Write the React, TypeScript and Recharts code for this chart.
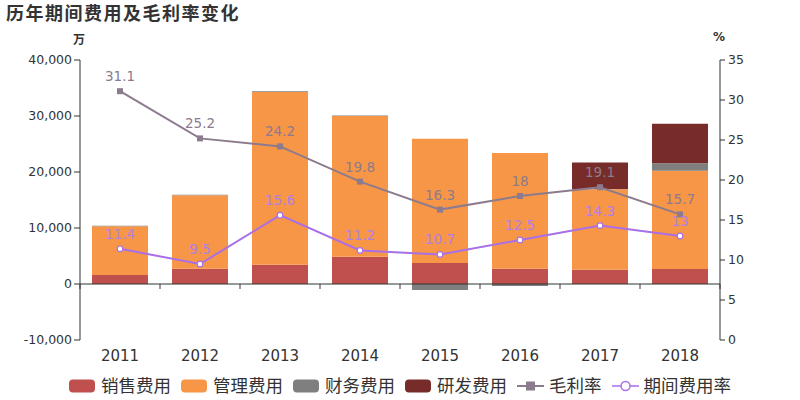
import React from 'react';
import {
  ComposedChart,
  Bar,
  Line,
  XAxis,
  YAxis,
  Legend,
  LabelList,
  ReferenceLine,
} from 'recharts';

// 年份
const years = ['2011', '2012', '2013', '2014', '2015', '2016', '2017', '2018'];

// 费用（万元）
const salesExpense = [1600, 2730, 3450, 4880, 3750, 2730, 2560, 2680];
const adminExpense = [8700, 13100, 30850, 25100, 22200, 20670, 14340, 17550];
const financeExpense = [100, 120, 100, 100, -1050, -350, 60, 1320];
const rdExpense = [0, 0, 0, 0, 0, 0, 4740, 7080];

// 比率（%）
const grossMargin = [31.1, 25.2, 24.2, 19.8, 16.3, 18, 19.1, 15.7];
const periodExpenseRate = [11.4, 9.5, 15.6, 11.2, 10.7, 12.5, 14.3, 13];

// 坐标轴刻度
const leftTicks = [-10000, 0, 10000, 20000, 30000, 40000];
const rightTicks = [0, 5, 10, 15, 20, 25, 30, 35];

const FONT = "'DejaVu Sans', 'Noto Sans CJK SC', sans-serif";
const AXIS_COLOR = '#333';

const COLORS = {
  sales: '#c0504d',
  admin: '#f79646',
  finance: '#7f7f7f',
  rd: '#772c2a',
  gross: '#8c7b8e',
  period: '#a96fe9',
};

const data = years.map((year, i) => ({
  year,
  sales: salesExpense[i],
  admin: adminExpense[i],
  finance: financeExpense[i],
  rd: rdExpense[i],
  gross: grossMargin[i],
  period: periodExpenseRate[i],
}));

const legendItems = [
  { name: '销售费用', color: COLORS.sales, kind: 'bar' },
  { name: '管理费用', color: COLORS.admin, kind: 'bar' },
  { name: '财务费用', color: COLORS.finance, kind: 'bar' },
  { name: '研发费用', color: COLORS.rd, kind: 'bar' },
  { name: '毛利率', color: COLORS.gross, kind: 'square' },
  { name: '期间费用率', color: COLORS.period, kind: 'circle' },
];

// 零值处的横轴线，类目分界处带刻度
const ZeroAxis = (props: any) => {
  const { x1, y1, x2 } = props;
  if (x1 == null || y1 == null || x2 == null) return null;
  const n = years.length;
  const step = (x2 - x1) / n;
  const ticks = [];
  for (let i = 0; i <= n; i++) {
    const x = x1 + step * i;
    ticks.push(<line key={i} x1={x} y1={y1} x2={x} y2={y1 + 5} stroke={AXIS_COLOR} strokeWidth={1} />);
  }
  return (
    <g>
      <line x1={x1} y1={y1} x2={x2} y2={y1} stroke={AXIS_COLOR} strokeWidth={1} />
      {ticks}
    </g>
  );
};

const SquareDot = (props: any) => {
  const { cx, cy } = props;
  if (cx == null || cy == null) return null;
  return <rect x={cx - 3} y={cy - 3} width={6} height={6} fill={COLORS.gross} />;
};

const CircleDot = (props: any) => {
  const { cx, cy } = props;
  if (cx == null || cy == null) return null;
  return <circle cx={cx} cy={cy} r={2.8} fill="#fff" stroke={COLORS.period} strokeWidth={1.2} />;
};

const LegendContent = () => (
  <div
    style={{
      display: 'flex',
      justifyContent: 'center',
      alignItems: 'center',
      gap: 10,
      fontFamily: FONT,
      fontSize: 17.5,
      color: '#333',
      lineHeight: '22px',
    }}
  >
    {legendItems.map((item) => (
      <div key={item.name} style={{ display: 'flex', alignItems: 'center' }}>
        <svg width={27} height={14} style={{ marginRight: 5 }}>
          {item.kind === 'bar' && <rect x={0} y={0.5} width={26} height={13} rx={4} fill={item.color} />}
          {item.kind === 'square' && (
            <g>
              <line x1={0} y1={7} x2={27} y2={7} stroke={item.color} strokeWidth={2} />
              <rect x={9} y={2.5} width={9} height={9} fill={item.color} />
            </g>
          )}
          {item.kind === 'circle' && (
            <g>
              <line x1={0} y1={7} x2={27} y2={7} stroke={item.color} strokeWidth={1.5} />
              <circle cx={13.5} cy={7} r={4.5} fill="#fff" stroke={item.color} strokeWidth={1.5} />
            </g>
          )}
        </svg>
        <span>{item.name}</span>
      </div>
    ))}
  </div>
);

export default function App() {
  return (
    <div style={{ position: 'absolute', left: 0, top: 0, width: 800, height: 400, background: '#fff' }}>
      <div
        style={{
          position: 'absolute',
          left: 6,
          top: 2,
          fontFamily: FONT,
          fontSize: 18,
          fontWeight: 'bold',
          letterSpacing: 1.5,
          color: '#333',
          lineHeight: '24px',
        }}
      >
        历年期间费用及毛利率变化
      </div>
      <div
        style={{
          position: 'absolute',
          left: 73,
          top: 30,
          fontFamily: FONT,
          fontSize: 12,
          fontWeight: 'bold',
          color: '#333',
        }}
      >
        万
      </div>
      <div
        style={{
          position: 'absolute',
          left: 713,
          top: 30,
          fontFamily: FONT,
          fontSize: 12,
          fontWeight: 'bold',
          color: '#333',
        }}
      >
        %
      </div>
      <ComposedChart
        width={800}
        height={400}
        data={data}
        stackOffset="sign"
        margin={{ top: 60, right: 0, bottom: 0, left: 0 }}
        style={{ fontFamily: FONT }}
      >
        <XAxis
          dataKey="year"
          height={60}
          axisLine={false}
          tickLine={false}
          tickMargin={4}
          tick={{ fontSize: 15, fill: AXIS_COLOR, fontFamily: FONT }}
        />
        <YAxis
          yAxisId="left"
          orientation="left"
          width={80}
          domain={[-10000, 40000]}
          ticks={leftTicks}
          interval={0}
          tickSize={6}
          tickMargin={2}
          stroke={AXIS_COLOR}
          tick={{ fontSize: 12.5, fill: AXIS_COLOR, fontFamily: FONT }}
          tickFormatter={(v: number) => v.toLocaleString('en-US')}
        />
        <YAxis
          yAxisId="right"
          orientation="right"
          width={80}
          domain={[0, 35]}
          ticks={rightTicks}
          interval={0}
          tickSize={5}
          tickMargin={3}
          stroke={AXIS_COLOR}
          tick={{ fontSize: 12.5, fill: AXIS_COLOR, fontFamily: FONT }}
        />
        <ReferenceLine yAxisId="left" y={0} shape={ZeroAxis} />
        <Bar yAxisId="left" dataKey="sales" name="销售费用" stackId="exp" fill={COLORS.sales} barSize={56} isAnimationActive={false} />
        <Bar yAxisId="left" dataKey="admin" name="管理费用" stackId="exp" fill={COLORS.admin} barSize={56} isAnimationActive={false} />
        <Bar yAxisId="left" dataKey="finance" name="财务费用" stackId="exp" fill={COLORS.finance} barSize={56} isAnimationActive={false} />
        <Bar yAxisId="left" dataKey="rd" name="研发费用" stackId="exp" fill={COLORS.rd} barSize={56} isAnimationActive={false} />
        <Line
          yAxisId="right"
          type="linear"
          dataKey="gross"
          name="毛利率"
          stroke={COLORS.gross}
          strokeWidth={2}
          dot={<SquareDot />}
          activeDot={false}
          isAnimationActive={false}
        >
          <LabelList dataKey="gross" position="top" offset={10} fill={COLORS.gross} fontSize={13.5} fontFamily={FONT} />
        </Line>
        <Line
          yAxisId="right"
          type="linear"
          dataKey="period"
          name="期间费用率"
          stroke={COLORS.period}
          strokeWidth={2}
          dot={<CircleDot />}
          activeDot={false}
          isAnimationActive={false}
        >
          <LabelList dataKey="period" position="top" offset={10} fill="#b07fea" fontSize={13.5} fontFamily={FONT} />
        </Line>
        <Legend
          verticalAlign="middle"
          align="center"
          wrapperStyle={{ position: 'absolute', left: 0, top: 375, width: 800 }}
          content={<LegendContent />}
        />
      </ComposedChart>
    </div>
  );
}
